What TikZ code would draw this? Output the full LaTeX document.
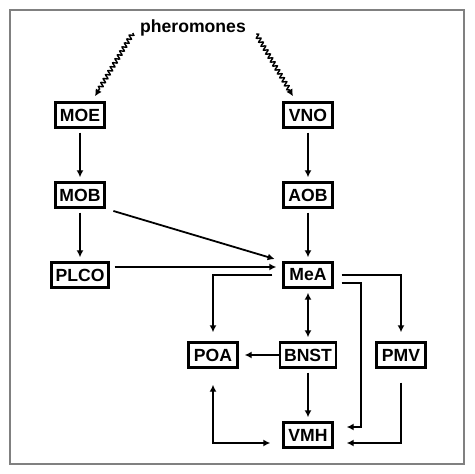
\documentclass[tikz,border=0pt]{standalone}
\usepackage{fontspec}
\setmainfont{Liberation Sans}
\usetikzlibrary{arrows.meta,decorations.pathmorphing}

\begin{document}
\begin{tikzpicture}[x=0.5pt, y=-0.5pt, >={Latex[length=3.5pt,width=3.5pt]},
                    area/.style={draw, line width=1.2pt, font=\fontsize{8.8}{10}\selectfont\bfseries, minimum width=24.5pt, minimum height=12.5pt, inner sep=2pt},
                    label/.style={font=\fontsize{8.8}{10}\selectfont\bfseries, inner sep=2pt},
                    fleche/.style={line width=0.9pt, shorten >=2pt, shorten <=2pt},
                    wiggle/.style={line width=0.7pt, decorate, decoration={snake, amplitude=1pt, segment length=2.3pt, post length=3.5pt}}]

	\useasboundingbox (0,0) rectangle (474,474);
	\draw[gray, line width=0.8pt] (10,10) rectangle (464,464);

	\node[label] (pheromones) at (193,28) {pheromones};

	\node[area] (MOE) at (80,115) {MOE};
	
	\node[area] (VNO) at (308,115) {VNO};
	
	\node[area] (MOB) at (80,195) {MOB};
	
	\node[area] (AOB) at (308,195) {AOB};
	
	\node[area] (PLCO) at (80,275) {PLCO};
	
	\node[area] (MeA) at (308,275) {MeA};
	
	\node[area] (POA) at (213,355) {POA};
	
	\node[area] (BNST) at (308,355) {BNST};
	
	\node[area] (PMV) at (401,355) {PMV};
	
	\node[area] (VMH) at (308,435) {VMH};
	

	\draw[->, wiggle] ([xshift=-1.5pt,yshift=-2.5pt]pheromones.west) -- ([xshift=7.5pt,yshift=2.5pt]MOE.north);
	
	\draw[->, wiggle] ([xshift=3pt,yshift=-3pt]pheromones.east) -- ([xshift=-7.5pt,yshift=2.5pt]VNO.north);

	\path[->, fleche] (MOE) edge (MOB);
	
	\path[->, fleche] (VNO) edge (AOB);
	
	\path[->, fleche] (MOB) edge (PLCO);
	
	\path[->, fleche] (AOB) edge (MeA);
	
	\path[->, fleche, shorten <=4pt, shorten >=4pt] (MOB.south east) edge (MeA.north west);
	
	\path[->, fleche, shorten <=2.5pt, shorten >=3pt] ([yshift=4pt]PLCO.east) edge ([yshift=4pt]MeA.west);

	\draw[->, fleche, shorten <=5pt, shorten >=4.5pt] (MeA.west) -| (POA.north);

	\draw[->, fleche, shorten <=4pt, shorten >=4.5pt] (MeA.east) -| (PMV.north);

	\draw[->, fleche, shorten <=4pt, shorten >=6.5pt] ([yshift=-4pt]MeA.east) -- ++(27,0) |- ([yshift=4pt]VMH.east);

	\path[<->, fleche] (MeA) edge (BNST);

	\path[->, fleche, shorten <=0pt, shorten >=3pt] (BNST) edge (POA);

	\path[->, fleche] (BNST) edge (VMH);

	\draw[<->, fleche, shorten <=8pt, shorten >=6pt] (POA.south) |- ([yshift=-4pt]VMH.west);

	\draw[->, fleche, shorten <=7pt, shorten >=6.5pt] (PMV.south) |- ([yshift=-4pt]VMH.east);

\end{tikzpicture}
\end{document}
